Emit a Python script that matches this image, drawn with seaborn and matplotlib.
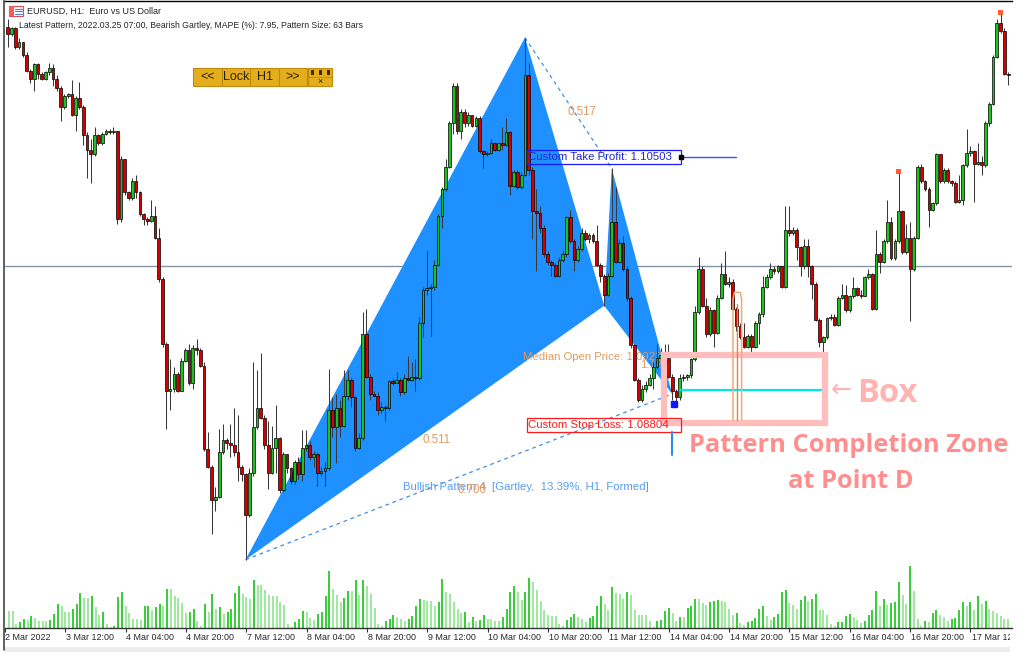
import numpy as np
import pandas as pd
import matplotlib.pyplot as plt
import seaborn as sns
from matplotlib.patches import Rectangle, Polygon
from matplotlib.lines import Line2D

sns.set_style('white')
plt.rcParams['font.family'] = ['Liberation Sans', 'DejaVu Sans']

# EURUSD H1, prices in pips (1e-4), bar 1 = first visible candle
first_open = 11133
close_pips = [
    11128, 11132, 11120, 11123, 11115, 11105, 11100, 11109, 11103, 11100,
    11104, 11107, 11100, 11094, 11082, 11089, 11090, 11077, 11088, 11082,
    11064, 11055, 11052, 11064, 11059, 11065, 11067, 11066, 11067, 11011,
    11049, 11028, 11024, 11035, 11028, 11014, 11011, 11010, 11013, 10999,
    10973, 10932, 10902, 10903, 10913, 10902, 10921, 10928, 10907, 10929,
    10928, 10918, 10865, 10854, 10833, 10835, 10863, 10871, 10869, 10868,
    10863, 10854, 10849, 10823, 10850, 10879, 10891, 10885, 10868, 10850,
    10866, 10872, 10839, 10862, 10853, 10845, 10857, 10849, 10866, 10868,
    10860, 10862, 10850, 10851, 10853, 10890, 10879, 10891, 10880, 10899,
    10909, 10898, 10866, 10872, 10938, 10911, 10900, 10899, 10890, 10892,
    10891, 10908, 10907, 10909, 10901, 10910, 10909, 10911, 10910, 10945,
    10966, 10967, 10968, 10982, 11013, 11030, 11044, 11072, 11095, 11067,
    11079, 11072, 11077, 11070, 11075, 11054, 11052, 11053, 11059, 11055,
    11059, 11058, 11066, 11032, 11041, 11031, 11039, 11102, 11042, 11016,
    11015, 11005, 10989, 10984, 10982, 10975, 10985, 10989, 11012, 10997,
    10985, 10992, 11002, 10998, 11001, 10997, 10982, 10975, 10963, 10975,
    11009, 10984, 10996, 10979, 10961, 10931, 10909, 10896, 10903, 10906,
    10910, 10917, 10923, 10925, 10923, 10911, 10902, 10898, 10910, 10911,
    10912, 10922, 10952, 10979, 10956, 10938, 10953, 10939, 10961, 10976,
    10970, 10971, 10954, 10943, 10936, 10930, 10937, 10930, 10945, 10951,
    10968, 10974, 10979, 10978, 10981, 10968, 11004, 11002, 11004, 10993,
    10981, 10994, 10981, 10970, 10947, 10933, 10936, 10948, 10949, 10944,
    10961, 10963, 10953, 10962, 10967, 10963, 10962, 10974, 10976, 10954,
    10989, 10984, 10997, 11009, 10986, 10997, 11016, 10990, 10999, 10979,
    10999, 11044, 11035, 11030, 11017, 11021, 11052, 11035, 11042, 11035,
    11034, 11022, 11023, 11045, 11053, 11054, 11046, 11047, 11045, 11072,
    11084, 11114, 11135, 11130, 11103, 11102,
]
high_pips = [
    11138, 11133, 11133, 11126, 11123, 11117, 11106, 11110, 11110, 11104,
    11105, 11110, 11109, 11102, 11095, 11090, 11091, 11099, 11089, 11098,
    11083, 11066, 11062, 11069, 11065, 11066, 11068, 11068, 11069, 11067,
    11051, 11049, 11029, 11037, 11039, 11029, 11015, 11012, 11023, 11019,
    11005, 10974, 10933, 10922, 10917, 10914, 10923, 10929, 10932, 10931,
    10935, 10929, 10920, 10876, 10855, 10841, 10878, 10881, 10872, 10881,
    10891, 10887, 10855, 10850, 10853, 10920, 10915, 10926, 10887, 10883,
    10880, 10893, 10873, 10863, 10862, 10854, 10858, 10860, 10877, 10877,
    10870, 10864, 10863, 10854, 10857, 10916, 10898, 10900, 10896, 10915,
    10915, 10910, 10899, 10875, 10952, 10954, 10913, 10902, 10901, 10895,
    10893, 10909, 10910, 10914, 10910, 10913, 10924, 10920, 10922, 10949,
    10968, 10991, 10970, 10985, 11014, 11031, 11049, 11073, 11097, 11097,
    11081, 11081, 11079, 11077, 11076, 11076, 11055, 11054, 11062, 11060,
    11060, 11069, 11075, 11067, 11042, 11042, 11041, 11126, 11110, 11044,
    11030, 11019, 11007, 10991, 10985, 10983, 10987, 10991, 11013, 11017,
    10998, 10994, 11005, 11004, 11002, 11002, 11007, 10983, 10976, 10977,
    11043, 11031, 10998, 11000, 10981, 10962, 10932, 10910, 10906, 10908,
    10913, 10920, 10932, 10929, 10932, 10932, 10913, 10903, 10913, 10913,
    10913, 10923, 10956, 10987, 10981, 10961, 10955, 10954, 10963, 10983,
    10991, 10974, 10973, 10955, 10945, 10945, 10938, 10938, 10946, 10952,
    10975, 10976, 10983, 10981, 10982, 10981, 11019, 11019, 11006, 11005,
    10994, 10998, 10998, 10982, 10971, 10948, 10937, 10949, 10951, 10951,
    10962, 10970, 10969, 10963, 10974, 10968, 10966, 10975, 10979, 10977,
    11004, 10990, 10998, 11023, 11012, 10998, 11041, 11017, 11008, 11009,
    11000, 11045, 11046, 11036, 11031, 11022, 11053, 11052, 11043, 11043,
    11036, 11035, 11039, 11046, 11068, 11057, 11055, 11059, 11051, 11073,
    11085, 11115, 11138, 11142, 11132, 11104,
]
low_pips = [
    11120, 11127, 11119, 11119, 11114, 11104, 11097, 11092, 11100, 11099,
    11099, 11102, 11095, 11092, 11073, 11081, 11088, 11076, 11067, 11081,
    11058, 11037, 11034, 11051, 11058, 11058, 11064, 11065, 11065, 11008,
    11009, 11026, 11023, 11023, 11024, 11013, 11007, 11007, 11009, 10998,
    10971, 10930, 10878, 10890, 10901, 10901, 10902, 10920, 10906, 10903,
    10925, 10917, 10864, 10853, 10811, 10826, 10834, 10862, 10865, 10860,
    10861, 10845, 10845, 10795, 10822, 10848, 10878, 10884, 10865, 10840,
    10849, 10850, 10837, 10838, 10850, 10843, 10843, 10846, 10845, 10864,
    10858, 10854, 10842, 10848, 10842, 10852, 10873, 10856, 10873, 10879,
    10896, 10892, 10864, 10865, 10871, 10910, 10896, 10899, 10887, 10888,
    10883, 10890, 10906, 10907, 10899, 10900, 10908, 10908, 10902, 10909,
    10936, 10963, 10937, 10966, 10981, 11005, 11029, 11043, 11065, 11065,
    11062, 11069, 11070, 11069, 11069, 11053, 11043, 11051, 11052, 11054,
    11054, 11055, 11057, 11026, 11031, 11030, 11030, 11038, 11039, 10998,
    10978, 11002, 10987, 10982, 10975, 10974, 10974, 10984, 10987, 10996,
    10978, 10984, 10991, 10997, 10996, 10996, 10981, 10971, 10956, 10962,
    10974, 10983, 10983, 10978, 10959, 10929, 10908, 10895, 10895, 10901,
    10905, 10903, 10916, 10920, 10922, 10910, 10896, 10894, 10896, 10908,
    10909, 10910, 10921, 10951, 10955, 10936, 10937, 10930, 10938, 10960,
    10969, 10968, 10953, 10940, 10935, 10929, 10929, 10926, 10929, 10932,
    10949, 10967, 10973, 10976, 10977, 10967, 10967, 11000, 11001, 10985,
    10975, 10979, 10974, 10960, 10946, 10930, 10925, 10935, 10947, 10943,
    10943, 10960, 10952, 10952, 10961, 10962, 10961, 10962, 10973, 10953,
    10953, 10977, 10983, 10996, 10985, 10985, 10996, 10989, 10989, 10946,
    10978, 10998, 11034, 11029, 11006, 11016, 11020, 11034, 11034, 11034,
    11032, 11021, 11021, 11020, 11044, 11051, 11022, 11045, 11039, 11044,
    11070, 11083, 11113, 11129, 11102, 11096,
]
tick_volume = [
    50, 50, 13, 17, 27, 25, 35, 30, 22, 20,
    20, 25, 42, 73, 65, 48, 48, 58, 73, 105,
    90, 90, 97, 62, 40, 48, 13, 2, 7, 93,
    109, 65, 45, 28, 28, 25, 65, 67, 53, 62,
    73, 67, 118, 118, 97, 90, 75, 45, 48, 58,
    22, 5, 73, 48, 102, 58, 64, 42, 48, 58,
    105, 127, 103, 93, 87, 143, 130, 130, 115, 99,
    97, 97, 78, 70, 12, 2, 17, 28, 52, 48,
    30, 25, 42, 48, 97, 172, 118, 100, 77, 90,
    110, 110, 143, 100, 143, 127, 102, 60, 13, 5,
    22, 28, 40, 33, 27, 22, 27, 35, 67, 87,
    85, 82, 82, 67, 77, 147, 107, 102, 77, 57,
    45, 48, 17, 33, 22, 25, 38, 28, 28, 22,
    20, 33, 58, 107, 127, 107, 85, 107, 150, 138,
    115, 82, 55, 40, 37, 35, 13, 5, 25, 33,
    42, 33, 27, 18, 30, 35, 67, 97, 73, 55,
    123, 105, 102, 87, 109, 98, 55, 40, 40, 40,
    22, 2, 22, 25, 50, 60, 45, 20, 32, 32,
    60, 65, 87, 87, 74, 70, 78, 80, 85, 82,
    77, 58, 40, 45, 15, 8, 18, 22, 31, 58,
    67, 35, 25, 33, 43, 107, 115, 75, 70, 58,
    85, 95, 82, 87, 102, 53, 53, 40, 13, 5,
    17, 19, 35, 42, 32, 25, 15, 20, 40, 55,
    112, 65, 88, 70, 75, 77, 138, 100, 73, 187,
    112, 28, 5, 22, 17, 45, 55, 38, 33, 22,
    28, 30, 53, 77, 65, 78, 53, 95, 73, 82,
    57, 50, 45, 37, 27, 27,
]

date_labels = ['2 Mar 2022', '3 Mar 12:00', '4 Mar 04:00', '4 Mar 20:00', '7 Mar 12:00',
               '8 Mar 04:00', '8 Mar 20:00', '9 Mar 12:00', '10 Mar 04:00', '10 Mar 20:00',
               '11 Mar 12:00', '14 Mar 04:00', '14 Mar 20:00', '15 Mar 12:00',
               '16 Mar 04:00', '16 Mar 20:00', '17 Mar 12:00']
label_step = 16

# Gartley X, A, B, C, D as (bar, pips)
pattern_bar = [64, 138, 159, 161, 177]
pattern_pips = [10795, 11126, 10956, 11043, 10900]
take_profit = 1.10503
stop_loss = 1.08804
median_open = 1.09233
last_price = 1.0981
zone_top, zone_bottom, zone_level = 1.09247, 1.08816, 1.09025
swing_bar = [237, 264]
swing_price = [1.1041, 1.1142]

W, H = 1030, 656
n = len(close_pips)
df = pd.DataFrame({'bar': np.arange(1, n + 1),
                   'close': np.array(close_pips) / 1e4,
                   'high': np.array(high_pips) / 1e4,
                   'low': np.array(low_pips) / 1e4,
                   'volume': tick_volume})
df['open'] = df['close'].shift(1).fillna(first_open / 1e4)
df['up'] = df['close'] >= df['open']


def fx(px):
    return px / W


def fy(py):
    return 1 - py / H


fig = plt.figure(figsize=(W / 100, H / 100), dpi=100)
xlim = ((5 - 4) / 3.775, (1012 - 4) / 3.775)

ax = fig.add_axes([fx(5), fy(565), fx(1012) - fx(5), fy(1) - fy(565)])
ax.set_xlim(*xlim)
ax.set_ylim(1.07916, 1.11492)
ax.set_xticks([])
ax.set_yticks([])
for s in ['right', 'bottom', 'left']:
    ax.spines[s].set_visible(False)
ax.spines['top'].set_color('black')
ax.spines['top'].set_linewidth(1)

ax.axhline(last_price, color='#8995a6', lw=1.0, zorder=0.8)

# pattern triangles
pts = list(zip(pattern_bar, np.array(pattern_pips) / 1e4))
X, A, B, C, D = pts
ax.add_patch(Polygon([X, A, B], closed=True, fc='#1e90ff', ec='none', zorder=1))
ax.add_patch(Polygon([B, C, D], closed=True, fc='#1e90ff', ec='none', zorder=1))
ax.plot([X[0], D[0]], [X[1], D[1]], ls=(0, (3, 3)), color='#3f8fe6', lw=0.9, zorder=2)
ax.plot([A[0], C[0]], [A[1], C[1]], ls=(0, (3, 3)), color='#3f8fe6', lw=0.9, zorder=2)

ax.text(137.6, 1.09235, f'Median Open Price: {median_open:.5f}', color='#e39a5e',
        fontsize=8.2, va='center', zorder=2.5)
ax.text(168.5, 1.09184, '1.127', color='#e39a5e', fontsize=8.2, va='center', zorder=2.5)

# candles
body_lo = df[['open', 'close']].min(axis=1)
body_h = (df['close'] - df['open']).abs().clip(lower=0.00003)
cols = np.where(df['up'], '#1ec21e', '#d40000')
ax.vlines(df['bar'], df['low'], df['high'], color='#3a3a3a', lw=0.75, zorder=3)
ax.bar(df['bar'], body_h, bottom=body_lo, width=0.72, color=cols,
       edgecolor='black', linewidth=0.5, zorder=4)

# ratio labels
for xi, yi, t in [(153.1, 1.10788, '0.517'), (114.7, 1.08708, '0.511')]:
    ax.text(xi, yi, t, color='#e39a5e', fontsize=8.3, ha='center', va='center', zorder=6)
ax.text(105.8, 1.0841, 'Bullish Pattern 4  [Gartley,  13.39%, H1, Formed]',
        color='#5a9df0', fontsize=8.2, va='center', zorder=5)
ax.text(124, 1.08391, '0.700', color='#e39a5e', fontsize=8.3, ha='center', va='center', zorder=6)

# take profit / stop loss labels
ax.add_patch(Rectangle((138.5, take_profit - 0.000445), 40.8, 0.00089, fill=False,
                       ec='#1a1aff', lw=0.9, zorder=6))
ax.text(138.8, take_profit, f'Custom Take Profit: {take_profit:.5f}', color='#2424d0',
        fontsize=8.2, va='center', zorder=6)
ax.plot([179.3, 193.9], [take_profit, take_profit], color='#4646ff', lw=1, zorder=6)
ax.plot(179.3, take_profit, marker='s', ms=3, color='black', zorder=7)

ax.add_patch(Rectangle((138.5, stop_loss - 0.000445), 40.8, 0.00089, fill=False,
                       ec='#ff1a1a', lw=0.9, zorder=6))
ax.text(138.8, stop_loss, f'Custom Stop Loss: {stop_loss:.5f}', color='#ff1a1a',
        fontsize=8.2, va='center', zorder=6)
ax.plot([177, 177], [stop_loss - 0.000445, 1.08613], color='#2b8cf0', lw=1.5, zorder=6)
ax.plot(177.4, 1.08939, marker='s', ms=4, color='#1414ff', zorder=7)

# completion zone box
ax.add_patch(Rectangle((174.8, zone_bottom), 42.7, zone_top - zone_bottom, fill=False,
                       ec='#ffbdbd', lw=4.5, zorder=5, joinstyle='miter'))
sns.lineplot(x=[179, 216.5], y=[zone_level, zone_level], color='#00e6ee', lw=1.6, ax=ax, zorder=5)
ax.plot([193.1, 193.1, 193.5, 195.0, 195.4, 195.4],
        [1.08835, 1.09600, 1.09645, 1.09645, 1.09600, 1.08835], color='#f2a878', lw=1.1, zorder=5)
ax.plot([194.3, 194.3], [1.08835, 1.0957], color='#e8803a', lw=1.0, zorder=5)

sns.scatterplot(x=swing_bar, y=swing_price, marker='s', s=14, color='#ff5f2e',
                edgecolor='none', ax=ax, zorder=6, legend=False)

# volume panel
axv = fig.add_axes([fx(5), fy(628), fx(1012) - fx(5), fy(565) - fy(628)])
vcols = np.where(df['volume'].diff().fillna(0) > 0, '#28c828', '#96e896')
axv.vlines(df['bar'], 0, df['volume'], colors=vcols, lw=1.3)
axv.set_xlim(*xlim)
axv.set_ylim(0, 189)
axv.set_yticks([])
axv.set_xticks(np.arange(0, n, label_step))
axv.tick_params(axis='x', bottom=True, direction='out', length=3, width=0.8,
                colors='#333333', labelbottom=False)
for s in ['top', 'right', 'left']:
    axv.spines[s].set_visible(False)
axv.spines['bottom'].set_color('#333333')
axv.spines['bottom'].set_linewidth(1)

axl = fig.add_axes([fx(5), fy(646), fx(1010) - fx(5), fy(629) - fy(646)])
axl.set_xlim(xlim[0], (1010 - 4) / 3.775)
axl.set_ylim(0, 1)
axl.axis('off')
for k, lab in enumerate(date_labels):
    axl.text(k * label_step + 0.3, 0.5, lab, fontsize=6.4, va='center', ha='left', clip_on=True)

# chart frame bits
fig.add_artist(Rectangle((fx(5), fy(652)), (1010 - 5) / W, 5 / H, transform=fig.transFigure,
                         fc='#ececec', ec='none'))
fig.add_artist(Line2D([fx(4), fx(4)], [fy(0), fy(650)], color='#444444', lw=1.2))

# header
fig.add_artist(Rectangle((fx(8.5), fy(16)), 14 / W, 10 / H, transform=fig.transFigure,
                         fc='white', ec='#e05050', lw=0.8))
fig.add_artist(Rectangle((fx(8.5), fy(16)), 5.5 / W, 10 / H, transform=fig.transFigure,
                         fc='#f06060', ec='none'))
for yy in [8.5, 11, 13.5]:
    fig.add_artist(Line2D([fx(15), fx(21.5)], [fy(yy), fy(yy)], color='#5080e0', lw=0.8))
fig.text(fx(27), fy(11), 'EURUSD, H1:  Euro vs US Dollar', fontsize=6.5, va='center', ha='left')
fig.text(fx(19), fy(25), 'Latest Pattern, 2022.03.25 07:00, Bearish Gartley, MAPE (%): 7.95, '
         'Pattern Size: 63 Bars', fontsize=6.2, va='center', ha='left')

# buttons
for x0, x1, lab in [(193, 222, '<<'), (222, 250, 'Lock'), (250, 279, 'H1'), (279, 307, '>>')]:
    fig.add_artist(Rectangle((fx(x0), fy(86)), (x1 - x0) / W, 18.5 / H, transform=fig.transFigure,
                             fc='#e4ad1c', ec='#c08a0c', lw=0.8))
    fig.text(fx((x0 + x1) / 2), fy(77), lab, fontsize=9, color='#2b2000', ha='center', va='center')
fig.add_artist(Rectangle((fx(307.5), fy(86)), 24.5 / W, 18.5 / H, transform=fig.transFigure,
                         fc='#e4ad1c', ec='#c08a0c', lw=0.8))
fig.add_artist(Line2D([fx(307.5), fx(332)], [fy(76.5), fy(76.5)], color='#c08a0c', lw=0.6))
for xx in [311, 319, 327]:
    fig.add_artist(Rectangle((fx(xx), fy(74.5)), 3 / W, 5 / H, transform=fig.transFigure,
                             fc='#3a2a00', ec='none'))
fig.text(fx(319.5), fy(81.5), '×', fontsize=6.5, color='#2b2000', ha='center', va='center')

# annotation texts
bold_family = ['Open Sans', 'Lato', 'DejaVu Sans']
fig.text(fx(831), fy(390), '←', fontsize=18, color='#ffb4b4', va='center', ha='left',
         family='DejaVu Sans')
fig.text(fx(857), fy(401.5), 'Box', fontsize=23.5, fontweight='bold', color='#ffb4b4',
         va='baseline', ha='left', family=bold_family)
fig.text(fx(849), fy(451.7), 'Pattern Completion Zone', fontsize=18.3, fontweight='bold',
         color='#ff8e8e', ha='center', va='baseline', family=bold_family)
fig.text(fx(851), fy(488.3), 'at Point D', fontsize=18.3, fontweight='bold',
         color='#ff8e8e', ha='center', va='baseline', family=bold_family)

fig.savefig('out.png', dpi=100)
